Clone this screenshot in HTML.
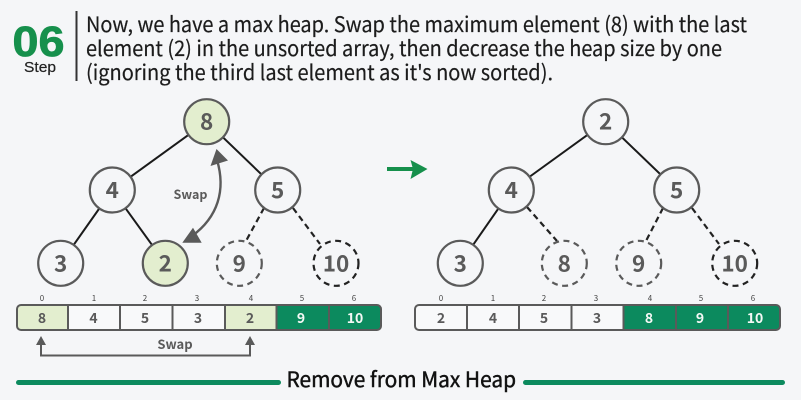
<!DOCTYPE html>
<html><head><meta charset="utf-8"><style>
html,body{margin:0;padding:0;background:#f5f6f8;width:801px;height:400px;overflow:hidden}
svg{display:block}
text{font-family:"Noto Sans CJK SC","Liberation Sans",sans-serif}
.h{font-size:21px;fill:#1c1c1c;stroke:#1c1c1c;stroke-width:.2}
.n{font-size:22.500px;font-weight:700;fill:#5a5a5a;text-anchor:middle}
.c{fill:#f5f6f8;stroke:#5a5a5a;stroke-width:2.2}
.g{fill:#e3eecf;stroke:#5a5a5a;stroke-width:2.2}
.d{fill:#f5f6f8;stroke:#5a5a5a;stroke-width:2.2;stroke-dasharray:6 4.5}
.k{fill:#f5f6f8;stroke:#222;stroke-width:2.2;stroke-dasharray:6 4.5}
.l{stroke:#1a1a1a;stroke-width:2;fill:none}
.ld{stroke:#222;stroke-width:2.2;fill:none;stroke-dasharray:6 4}
.i{font-size:8px;fill:#444;text-anchor:middle}
.a{font-size:14px;font-weight:700;fill:#5a5a5a;text-anchor:middle}
.w{font-size:14px;font-weight:700;fill:#f4f8f5;text-anchor:middle}
</style></head><body>
<svg width="801" height="400" viewBox="0 0 801 400" xmlns="http://www.w3.org/2000/svg">
<rect width="801" height="400" fill="#f5f6f8"/>
<text x="12.500" y="56" style='font-family:"Liberation Sans",sans-serif;font-size:43px;font-weight:700;fill:#16904c' stroke="#16904c" stroke-width=".8" textLength="52" lengthAdjust="spacingAndGlyphs">06</text>
<text x="24" y="72" style='font-family:"Liberation Sans",sans-serif;font-size:15px;fill:#222' stroke="#222" stroke-width=".2" textLength="32" lengthAdjust="spacingAndGlyphs">Step</text>
<rect x="75.500" y="11" width="2" height="70" fill="#333"/>
<text class="h" x="86" y="32" textLength="661" lengthAdjust="spacingAndGlyphs">Now, we have a max heap. Swap the maximum element (8) with the last</text>
<text class="h" x="86" y="56" textLength="636" lengthAdjust="spacingAndGlyphs">element (2) in the unsorted array, then decrease the heap size by one</text>
<text class="h" x="86" y="80" textLength="467" lengthAdjust="spacingAndGlyphs">(ignoring the third last element as it's now sorted).</text>

<!-- left tree -->
<line class="l" x1="206.700" y1="121.700" x2="112.300" y2="190"/>
<line class="l" x1="206.700" y1="121.700" x2="277.700" y2="190"/>
<line class="l" x1="112.300" y1="190" x2="60.700" y2="263.300"/>
<line class="l" x1="112.300" y1="190" x2="165.300" y2="263.300"/>
<line class="ld" x1="264" y1="208" x2="246" y2="241"/>
<line class="ld" x1="293" y1="208" x2="320" y2="244"/>
<circle class="g" cx="206.700" cy="121.700" r="22.500"/>
<circle class="c" cx="112.300" cy="190" r="22.500"/>
<circle class="c" cx="277.700" cy="190" r="22.500"/>
<circle class="c" cx="60.700" cy="263.300" r="22.500"/>
<circle class="g" cx="165.300" cy="263.300" r="22.500"/>
<circle class="d" cx="239.300" cy="263.300" r="22.500"/>
<circle class="k" cx="336" cy="263.300" r="22.500"/>
<text class="n" x="206.700" y="129.500">8</text>
<text class="n" x="112.300" y="198">4</text>
<text class="n" x="277.700" y="198">5</text>
<text class="n" x="60.700" y="271.500">3</text>
<text class="n" x="165.300" y="271.500">2</text>
<text class="n" x="239.300" y="271.500">9</text>
<text class="n" x="336" y="271.500">10</text>
<path d="M217 160C226 190 218 217 192 236" fill="none" stroke="#5a5a5a" stroke-width="2.400"/>
<polygon points="216.500,149 210.500,166 228,160.500" fill="#5a5a5a"/>
<polygon points="182.300,242.700 193,227.700 201.700,242.700" fill="#5a5a5a"/>
<text x="190.500" y="199" style="font-size:12.500px;font-weight:700;fill:#5a5a5a;text-anchor:middle">Swap</text>

<!-- arrow -->
<rect x="387" y="167" width="26" height="4" fill="#16904c"/>
<polygon points="427.500,169 410.500,160 413,169 410.500,179" fill="#16904c"/>

<!-- right tree -->
<line class="l" x1="605.700" y1="121.700" x2="511.300" y2="190"/>
<line class="l" x1="605.700" y1="121.700" x2="676.700" y2="190"/>
<line class="l" x1="511.300" y1="190" x2="460.300" y2="263.300"/>
<line class="ld" x1="527" y1="207" x2="557" y2="241"/>
<line class="ld" x1="663" y1="208" x2="646" y2="241"/>
<line class="ld" x1="692" y1="208" x2="719" y2="244"/>
<circle class="c" cx="605.700" cy="121.700" r="22.500"/>
<circle class="c" cx="511.300" cy="190" r="22.500"/>
<circle class="c" cx="676.700" cy="190" r="22.500"/>
<circle class="c" cx="460.300" cy="263.300" r="22.500"/>
<circle class="d" cx="564.300" cy="263.300" r="22.500"/>
<circle class="d" cx="638.700" cy="263.300" r="22.500"/>
<circle class="k" cx="734.700" cy="263.300" r="22.500"/>
<text class="n" x="605.700" y="129.500">2</text>
<text class="n" x="511.300" y="198">4</text>
<text class="n" x="676.700" y="198">5</text>
<text class="n" x="460.300" y="271.500">3</text>
<text class="n" x="564.300" y="271.500">8</text>
<text class="n" x="638.700" y="271.500">9</text>
<text class="n" x="734.700" y="271.500">10</text>

<!-- left array -->
<rect x="17" y="305" width="364" height="25" rx="4" fill="#f8f9fa"/>
<path d="M21 305H68V330H21a4 4 0 0 1-4-4V309a4 4 0 0 1 4-4Z" fill="#e3eecf"/>
<rect x="225" y="305" width="52" height="25" fill="#e3eecf"/>
<path d="M277 305H377a4 4 0 0 1 4 4V326a4 4 0 0 1-4 4H277Z" fill="#0c8a5e"/>
<rect x="17" y="305" width="364" height="25" rx="4" fill="none" stroke="#5a5a5a" stroke-width="2"/>
<path d="M68 305V330M120 305V330M172.500 305V330M225 305V330M276.500 305V330M329 305V330" stroke="#5a5a5a" stroke-width="2"/>
<text class="i" x="42" y="301">0</text><text class="i" x="94" y="301">1</text><text class="i" x="145" y="301">2</text><text class="i" x="197" y="301">3</text><text class="i" x="251" y="301">4</text><text class="i" x="302" y="301">5</text><text class="i" x="354" y="301">6</text>
<text class="a" x="42" y="323">8</text><text class="a" x="93.500" y="323">4</text><text class="a" x="145" y="323">5</text><text class="a" x="198" y="323">3</text><text class="a" x="250" y="323">2</text><text class="w" x="301" y="323">9</text><text class="w" x="355" y="323">10</text>
<path d="M41 342V355.500H250V342" fill="none" stroke="#5a5a5a" stroke-width="2"/>
<polygon points="41,336 36,345 46,345" fill="#5a5a5a"/>
<polygon points="250,336 245,345 255,345" fill="#5a5a5a"/>
<text class="a" x="175" y="349" style="font-size:13px">Swap</text>

<!-- right array -->
<rect x="415" y="305" width="365" height="25" rx="4" fill="#f8f9fa"/>
<path d="M623 305H776a4 4 0 0 1 4 4V326a4 4 0 0 1-4 4H623Z" fill="#0c8a5e"/>
<rect x="415" y="305" width="365" height="25" rx="4" fill="none" stroke="#5a5a5a" stroke-width="2"/>
<path d="M467 305V330M519 305V330M571.500 305V330M623.500 305V330M676 305V330M728 305V330" stroke="#5a5a5a" stroke-width="2"/>
<text class="i" x="441" y="301">0</text><text class="i" x="493" y="301">1</text><text class="i" x="544" y="301">2</text><text class="i" x="596" y="301">3</text><text class="i" x="650" y="301">4</text><text class="i" x="701" y="301">5</text><text class="i" x="753" y="301">6</text>
<text class="a" x="441" y="323">2</text><text class="a" x="493" y="323">4</text><text class="a" x="544" y="323">5</text><text class="a" x="597" y="323">3</text><text class="w" x="649" y="323">8</text><text class="w" x="700" y="323">9</text><text class="w" x="755" y="323">10</text>

<!-- footer -->
<rect x="16" y="380" width="265" height="5" rx="2.500" fill="#0c8a5e"/>
<rect x="523" y="380" width="262" height="5" rx="2.500" fill="#0c8a5e"/>
<text x="286.500" y="387" style="font-size:21px;font-weight:400;fill:#111;stroke:#111;stroke-width:.45" textLength="229.500" lengthAdjust="spacingAndGlyphs">Remove from Max Heap</text>
</svg>
</body></html>
